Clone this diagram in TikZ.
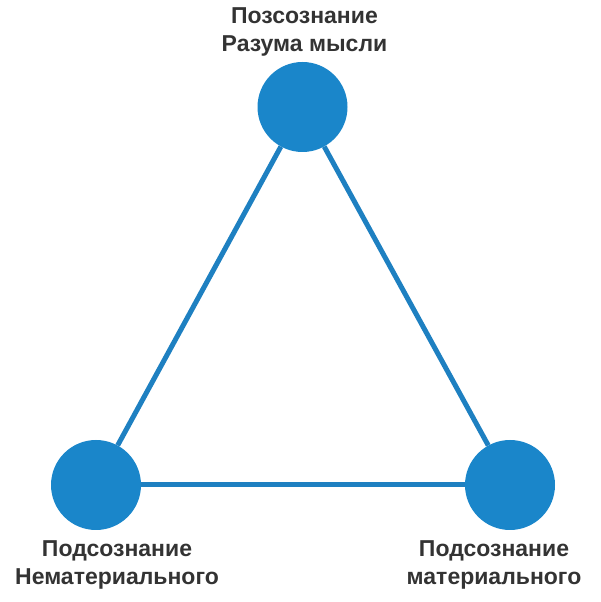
\documentclass[tikz,border=0pt]{standalone}
\usepackage{fontspec}
\setmainfont{Liberation Sans}
\usetikzlibrary{positioning}
\definecolor{dotblue}{HTML}{1A86CA}
\definecolor{lineblue}{HTML}{1E80C1}
\definecolor{labelgray}{HTML}{333333}

\begin{document}
\begin{tikzpicture}[x=1pt,y=1pt,node distance=10pt,
    dot/.style={circle,fill=dotblue,minimum size=90pt,inner sep=0pt},
    lbl/.style={align=center,text=labelgray,inner sep=0pt,
      font=\fontsize{23}{28}\selectfont\bfseries}]
   \useasboundingbox (0,0) rectangle (600,602);
   \node[dot] (top) at (302.5,495) {};
   \node[dot] (left) at (96,117) {};
   \node[dot] (right) at (510,117) {};
   \node[lbl] (ltop) [above=5pt of top,xshift=2pt] {Позсознание\\Разума мысли};
   \node[lbl] (lleft) [below=of left,xshift=21pt] {Подсознание\\Нематериального};
   \node[lbl] (lright) [below=of right,xshift=-16pt] {Подсознание\\материального};
    \path[draw=lineblue,line width=5pt]
    (top) edge (left)
          edge (right)
    (left) edge (right);
\end{tikzpicture}
\end{document}
